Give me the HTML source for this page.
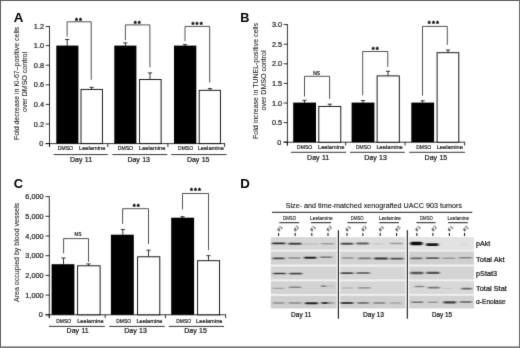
<!DOCTYPE html>
<html lang="en"><head><meta charset="utf-8"><title>Figure</title>
<style>html,body{margin:0;padding:0;background:#fff;}svg{display:block;}text{font-family:'Liberation Sans', Arial, sans-serif;}</style>
</head><body>
<svg width="520" height="348" viewBox="0 0 520 348">
<defs><filter id="b1" x="-20%" y="-200%" width="140%" height="500%"><feGaussianBlur stdDeviation="0.8 0.55"/></filter><filter id="b2" x="-20%" y="-200%" width="140%" height="500%"><feGaussianBlur stdDeviation="1.0 0.6"/></filter><filter id="soft" x="0" y="0" width="520" height="348" filterUnits="userSpaceOnUse" color-interpolation-filters="sRGB"><feConvolveMatrix order="3" kernelMatrix="1 8 1 8 64 8 1 8 1" divisor="100" edgeMode="duplicate" preserveAlpha="true"/></filter></defs>
<g filter="url(#soft)">
<rect x="0.00" y="0.00" width="520.00" height="348.00" fill="#fff"/>
<rect x="0.00" y="0.00" width="520.00" height="1.00" fill="#5e5e5e"/>
<rect x="0.00" y="0.00" width="1.00" height="348.00" fill="#5e5e5e"/>
<rect x="519.00" y="0.00" width="1.00" height="348.00" fill="#6e6e6e"/>
<rect x="0.00" y="346.40" width="520.00" height="1.60" fill="#777"/>
<text x="13.70" y="21.90" font-size="12.2" text-anchor="start" font-weight="bold" fill="#000" textLength="9.60" lengthAdjust="spacingAndGlyphs">A</text>
<text x="240.30" y="21.90" font-size="12.2" text-anchor="start" font-weight="bold" fill="#000" textLength="9.20" lengthAdjust="spacingAndGlyphs">B</text>
<text x="13.80" y="187.90" font-size="12.2" text-anchor="start" font-weight="bold" fill="#000" textLength="9.30" lengthAdjust="spacingAndGlyphs">C</text>
<text x="240.20" y="188.00" font-size="12.2" text-anchor="start" font-weight="bold" fill="#000" textLength="9.60" lengthAdjust="spacingAndGlyphs">D</text>
<line x1="49.50" y1="26.10" x2="49.50" y2="146.80" stroke="#000" stroke-width="0.8"/>
<line x1="45.70" y1="143.60" x2="225.00" y2="143.60" stroke="#000" stroke-width="0.8"/>
<line x1="45.70" y1="143.60" x2="49.50" y2="143.60" stroke="#000" stroke-width="0.8"/>
<text x="43.20" y="146.15" font-size="7.3" text-anchor="end" font-weight="normal" fill="#222" stroke="#222" stroke-width="0.22">0</text>
<line x1="45.70" y1="124.00" x2="49.50" y2="124.00" stroke="#000" stroke-width="0.8"/>
<text x="44.00" y="126.55" font-size="7.3" text-anchor="end" font-weight="normal" fill="#222" stroke="#222" stroke-width="0.22">0.2</text>
<line x1="45.70" y1="104.40" x2="49.50" y2="104.40" stroke="#000" stroke-width="0.8"/>
<text x="44.00" y="106.95" font-size="7.3" text-anchor="end" font-weight="normal" fill="#222" stroke="#222" stroke-width="0.22">0.4</text>
<line x1="45.70" y1="84.80" x2="49.50" y2="84.80" stroke="#000" stroke-width="0.8"/>
<text x="44.00" y="87.35" font-size="7.3" text-anchor="end" font-weight="normal" fill="#222" stroke="#222" stroke-width="0.22">0.6</text>
<line x1="45.70" y1="65.20" x2="49.50" y2="65.20" stroke="#000" stroke-width="0.8"/>
<text x="44.00" y="67.75" font-size="7.3" text-anchor="end" font-weight="normal" fill="#222" stroke="#222" stroke-width="0.22">0.8</text>
<line x1="45.70" y1="45.60" x2="49.50" y2="45.60" stroke="#000" stroke-width="0.8"/>
<text x="44.00" y="48.15" font-size="7.3" text-anchor="end" font-weight="normal" fill="#222" stroke="#222" stroke-width="0.22">1.0</text>
<line x1="45.70" y1="26.50" x2="49.50" y2="26.50" stroke="#000" stroke-width="0.8"/>
<text x="44.00" y="28.55" font-size="7.3" text-anchor="end" font-weight="normal" fill="#222" stroke="#222" stroke-width="0.22">1.2</text>
<line x1="49.50" y1="143.60" x2="49.50" y2="147.00" stroke="#000" stroke-width="0.8"/>
<line x1="107.80" y1="143.60" x2="107.80" y2="147.00" stroke="#000" stroke-width="0.8"/>
<line x1="167.90" y1="143.60" x2="167.90" y2="147.00" stroke="#000" stroke-width="0.8"/>
<line x1="224.60" y1="143.60" x2="224.60" y2="147.00" stroke="#000" stroke-width="0.8"/>
<rect x="56.30" y="45.60" width="22.10" height="98.00" fill="#000"/>
<rect x="81.00" y="89.40" width="21.40" height="54.20" fill="#fff" stroke="#000" stroke-width="0.9"/>
<line x1="67.20" y1="39.50" x2="67.20" y2="46.00" stroke="#000" stroke-width="0.8"/>
<line x1="65.10" y1="39.50" x2="69.30" y2="39.50" stroke="#000" stroke-width="0.8"/>
<line x1="91.60" y1="87.30" x2="91.60" y2="89.20" stroke="#000" stroke-width="0.8"/>
<line x1="89.50" y1="87.30" x2="93.70" y2="87.30" stroke="#000" stroke-width="0.8"/>
<polyline points="67.10,36.40 67.10,21.80 91.20,21.80 91.20,79.80" fill="none" stroke="#1a1a1a" stroke-width="0.75"/>
<text x="74.97 79.07" y="22.90" font-size="7.6" font-weight="bold" fill="#000" stroke="#000" stroke-width="0.35">**</text>
<text x="57.80" y="149.90" font-size="6.0" text-anchor="start" font-weight="normal" fill="#222" textLength="15.20" lengthAdjust="spacingAndGlyphs" stroke="#222" stroke-width="0.22">DMSO</text>
<text x="79.00" y="149.90" font-size="6.0" text-anchor="start" font-weight="normal" fill="#222" textLength="26.30" lengthAdjust="spacingAndGlyphs" stroke="#222" stroke-width="0.22">Leelamine</text>
<line x1="53.60" y1="154.60" x2="107.80" y2="154.60" stroke="#000" stroke-width="0.8"/>
<text x="70.00" y="161.70" font-size="7.0" fill="#111" stroke="#111" stroke-width="0.2">Day <tspan x="84.80">11</tspan></text>
<rect x="114.30" y="45.60" width="22.10" height="98.00" fill="#000"/>
<rect x="139.60" y="79.50" width="21.50" height="64.10" fill="#fff" stroke="#000" stroke-width="0.9"/>
<line x1="125.30" y1="42.90" x2="125.30" y2="46.00" stroke="#000" stroke-width="0.8"/>
<line x1="123.20" y1="42.90" x2="127.40" y2="42.90" stroke="#000" stroke-width="0.8"/>
<line x1="150.00" y1="72.90" x2="150.00" y2="79.30" stroke="#000" stroke-width="0.8"/>
<line x1="147.90" y1="72.90" x2="152.10" y2="72.90" stroke="#000" stroke-width="0.8"/>
<polyline points="125.40,40.20 125.40,24.90 149.90,24.90 149.90,67.30" fill="none" stroke="#1a1a1a" stroke-width="0.75"/>
<text x="133.77 137.87" y="25.70" font-size="7.6" font-weight="bold" fill="#000" stroke="#000" stroke-width="0.35">**</text>
<text x="117.80" y="149.90" font-size="6.0" text-anchor="start" font-weight="normal" fill="#222" textLength="15.20" lengthAdjust="spacingAndGlyphs" stroke="#222" stroke-width="0.22">DMSO</text>
<text x="139.00" y="149.90" font-size="6.0" text-anchor="start" font-weight="normal" fill="#222" textLength="26.30" lengthAdjust="spacingAndGlyphs" stroke="#222" stroke-width="0.22">Leelamine</text>
<line x1="112.40" y1="154.60" x2="167.30" y2="154.60" stroke="#000" stroke-width="0.8"/>
<text x="127.40" y="161.70" font-size="7.0" fill="#111" stroke="#111" stroke-width="0.2">Day <tspan x="142.20">13</tspan></text>
<rect x="174.00" y="45.60" width="22.30" height="98.00" fill="#000"/>
<rect x="199.20" y="90.30" width="21.20" height="53.30" fill="#fff" stroke="#000" stroke-width="0.9"/>
<line x1="185.00" y1="44.60" x2="185.00" y2="46.00" stroke="#000" stroke-width="0.8"/>
<line x1="182.90" y1="44.60" x2="187.10" y2="44.60" stroke="#000" stroke-width="0.8"/>
<line x1="210.00" y1="88.60" x2="210.00" y2="90.00" stroke="#000" stroke-width="0.8"/>
<line x1="207.90" y1="88.60" x2="212.10" y2="88.60" stroke="#000" stroke-width="0.8"/>
<polyline points="185.00,41.00 185.00,26.40 209.70,26.40 209.70,82.50" fill="none" stroke="#1a1a1a" stroke-width="0.75"/>
<text x="191.52 195.62 199.72" y="27.10" font-size="7.6" font-weight="bold" fill="#000" stroke="#000" stroke-width="0.35">***</text>
<text x="178.10" y="149.90" font-size="6.0" text-anchor="start" font-weight="normal" fill="#222" textLength="14.90" lengthAdjust="spacingAndGlyphs" stroke="#222" stroke-width="0.22">DMSO</text>
<text x="197.70" y="149.90" font-size="6.0" text-anchor="start" font-weight="normal" fill="#222" textLength="26.10" lengthAdjust="spacingAndGlyphs" stroke="#222" stroke-width="0.22">Leelamine</text>
<line x1="171.30" y1="154.60" x2="226.50" y2="154.60" stroke="#000" stroke-width="0.8"/>
<text x="186.90" y="161.70" font-size="7.0" fill="#111" stroke="#111" stroke-width="0.2">Day <tspan x="201.70">15</tspan></text>
<line x1="287.40" y1="24.00" x2="287.40" y2="145.40" stroke="#000" stroke-width="0.8"/>
<line x1="283.60" y1="142.20" x2="465.00" y2="142.20" stroke="#000" stroke-width="0.8"/>
<line x1="283.60" y1="142.20" x2="287.40" y2="142.20" stroke="#000" stroke-width="0.8"/>
<text x="281.40" y="144.75" font-size="7.3" text-anchor="end" font-weight="normal" fill="#222" stroke="#222" stroke-width="0.22">0</text>
<line x1="283.60" y1="122.60" x2="287.40" y2="122.60" stroke="#000" stroke-width="0.8"/>
<text x="282.20" y="125.15" font-size="7.3" text-anchor="end" font-weight="normal" fill="#222" stroke="#222" stroke-width="0.22">0.5</text>
<line x1="283.60" y1="103.00" x2="287.40" y2="103.00" stroke="#000" stroke-width="0.8"/>
<text x="282.20" y="105.55" font-size="7.3" text-anchor="end" font-weight="normal" fill="#222" stroke="#222" stroke-width="0.22">1.0</text>
<line x1="283.60" y1="83.40" x2="287.40" y2="83.40" stroke="#000" stroke-width="0.8"/>
<text x="282.20" y="85.95" font-size="7.3" text-anchor="end" font-weight="normal" fill="#222" stroke="#222" stroke-width="0.22">1.5</text>
<line x1="283.60" y1="63.80" x2="287.40" y2="63.80" stroke="#000" stroke-width="0.8"/>
<text x="282.20" y="66.35" font-size="7.3" text-anchor="end" font-weight="normal" fill="#222" stroke="#222" stroke-width="0.22">2.0</text>
<line x1="283.60" y1="44.20" x2="287.40" y2="44.20" stroke="#000" stroke-width="0.8"/>
<text x="282.20" y="46.75" font-size="7.3" text-anchor="end" font-weight="normal" fill="#222" stroke="#222" stroke-width="0.22">2.5</text>
<line x1="283.60" y1="24.60" x2="287.40" y2="24.60" stroke="#000" stroke-width="0.8"/>
<text x="282.20" y="27.15" font-size="7.3" text-anchor="end" font-weight="normal" fill="#222" stroke="#222" stroke-width="0.22">3.0</text>
<line x1="287.40" y1="142.20" x2="287.40" y2="145.60" stroke="#000" stroke-width="0.8"/>
<line x1="345.70" y1="142.20" x2="345.70" y2="145.60" stroke="#000" stroke-width="0.8"/>
<line x1="405.10" y1="142.20" x2="405.10" y2="145.60" stroke="#000" stroke-width="0.8"/>
<line x1="464.60" y1="142.20" x2="464.60" y2="145.60" stroke="#000" stroke-width="0.8"/>
<rect x="293.20" y="102.60" width="22.80" height="39.60" fill="#000"/>
<rect x="318.80" y="106.40" width="22.00" height="35.80" fill="#fff" stroke="#000" stroke-width="0.9"/>
<line x1="304.50" y1="100.30" x2="304.50" y2="103.00" stroke="#000" stroke-width="0.8"/>
<line x1="302.40" y1="100.30" x2="306.60" y2="100.30" stroke="#000" stroke-width="0.8"/>
<line x1="329.80" y1="104.20" x2="329.80" y2="106.20" stroke="#000" stroke-width="0.8"/>
<line x1="327.70" y1="104.20" x2="331.90" y2="104.20" stroke="#000" stroke-width="0.8"/>
<polyline points="304.50,96.40 304.50,76.30 329.60,76.30 329.60,98.80" fill="none" stroke="#1a1a1a" stroke-width="0.75"/>
<text x="316.60" y="74.70" font-size="4.9" text-anchor="middle" font-weight="normal" fill="#111" stroke="#222" stroke-width="0.22">NS</text>
<text x="297.00" y="149.30" font-size="6.0" text-anchor="start" font-weight="normal" fill="#222" textLength="15.20" lengthAdjust="spacingAndGlyphs" stroke="#222" stroke-width="0.22">DMSO</text>
<text x="318.00" y="149.30" font-size="6.0" text-anchor="start" font-weight="normal" fill="#222" textLength="26.40" lengthAdjust="spacingAndGlyphs" stroke="#222" stroke-width="0.22">Leelamine</text>
<line x1="290.90" y1="152.30" x2="346.20" y2="152.30" stroke="#000" stroke-width="0.8"/>
<text x="307.10" y="159.70" font-size="7.0" fill="#111" stroke="#111" stroke-width="0.2">Day <tspan x="321.90">11</tspan></text>
<rect x="351.60" y="102.60" width="22.80" height="39.60" fill="#000"/>
<rect x="377.10" y="75.90" width="22.20" height="66.30" fill="#fff" stroke="#000" stroke-width="0.9"/>
<line x1="363.00" y1="100.60" x2="363.00" y2="103.00" stroke="#000" stroke-width="0.8"/>
<line x1="360.90" y1="100.60" x2="365.10" y2="100.60" stroke="#000" stroke-width="0.8"/>
<line x1="388.00" y1="71.30" x2="388.00" y2="75.70" stroke="#000" stroke-width="0.8"/>
<line x1="385.90" y1="71.30" x2="390.10" y2="71.30" stroke="#000" stroke-width="0.8"/>
<polyline points="362.70,95.30 362.70,51.50 387.80,51.50 387.80,67.00" fill="none" stroke="#1a1a1a" stroke-width="0.75"/>
<text x="371.77 375.87" y="51.70" font-size="7.6" font-weight="bold" fill="#000" stroke="#000" stroke-width="0.35">**</text>
<text x="356.00" y="149.30" font-size="6.0" text-anchor="start" font-weight="normal" fill="#222" textLength="15.00" lengthAdjust="spacingAndGlyphs" stroke="#222" stroke-width="0.22">DMSO</text>
<text x="376.40" y="149.30" font-size="6.0" text-anchor="start" font-weight="normal" fill="#222" textLength="26.40" lengthAdjust="spacingAndGlyphs" stroke="#222" stroke-width="0.22">Leelamine</text>
<line x1="350.00" y1="152.30" x2="404.80" y2="152.30" stroke="#000" stroke-width="0.8"/>
<text x="364.30" y="159.70" font-size="7.0" fill="#111" stroke="#111" stroke-width="0.2">Day <tspan x="379.10">13</tspan></text>
<rect x="411.30" y="102.60" width="22.80" height="39.60" fill="#000"/>
<rect x="437.10" y="52.70" width="21.70" height="89.50" fill="#fff" stroke="#000" stroke-width="0.9"/>
<line x1="422.60" y1="100.80" x2="422.60" y2="103.00" stroke="#000" stroke-width="0.8"/>
<line x1="420.50" y1="100.80" x2="424.70" y2="100.80" stroke="#000" stroke-width="0.8"/>
<line x1="448.00" y1="50.00" x2="448.00" y2="52.50" stroke="#000" stroke-width="0.8"/>
<line x1="445.90" y1="50.00" x2="450.10" y2="50.00" stroke="#000" stroke-width="0.8"/>
<polyline points="422.50,95.70 422.50,26.40 447.30,26.40 447.30,44.90" fill="none" stroke="#1a1a1a" stroke-width="0.75"/>
<text x="427.82 431.92 436.02" y="25.70" font-size="7.6" font-weight="bold" fill="#000" stroke="#000" stroke-width="0.35">***</text>
<text x="416.30" y="149.30" font-size="6.0" text-anchor="start" font-weight="normal" fill="#222" textLength="14.70" lengthAdjust="spacingAndGlyphs" stroke="#222" stroke-width="0.22">DMSO</text>
<text x="436.70" y="149.30" font-size="6.0" text-anchor="start" font-weight="normal" fill="#222" textLength="26.10" lengthAdjust="spacingAndGlyphs" stroke="#222" stroke-width="0.22">Leelamine</text>
<line x1="409.30" y1="152.30" x2="465.00" y2="152.30" stroke="#000" stroke-width="0.8"/>
<text x="424.60" y="159.70" font-size="7.0" fill="#111" stroke="#111" stroke-width="0.2">Day <tspan x="439.40">15</tspan></text>
<line x1="49.30" y1="196.20" x2="49.30" y2="318.00" stroke="#000" stroke-width="0.8"/>
<line x1="45.50" y1="314.80" x2="226.10" y2="314.80" stroke="#000" stroke-width="0.8"/>
<line x1="45.50" y1="314.80" x2="49.30" y2="314.80" stroke="#000" stroke-width="0.8"/>
<text x="42.80" y="317.35" font-size="7.3" text-anchor="end" font-weight="normal" fill="#222" stroke="#222" stroke-width="0.22">0</text>
<line x1="45.50" y1="295.10" x2="49.30" y2="295.10" stroke="#000" stroke-width="0.8"/>
<text x="43.60" y="297.65" font-size="7.3" text-anchor="end" font-weight="normal" fill="#222" stroke="#222" stroke-width="0.22">1,000</text>
<line x1="45.50" y1="275.40" x2="49.30" y2="275.40" stroke="#000" stroke-width="0.8"/>
<text x="43.60" y="277.95" font-size="7.3" text-anchor="end" font-weight="normal" fill="#222" stroke="#222" stroke-width="0.22">2,000</text>
<line x1="45.50" y1="255.70" x2="49.30" y2="255.70" stroke="#000" stroke-width="0.8"/>
<text x="43.60" y="258.25" font-size="7.3" text-anchor="end" font-weight="normal" fill="#222" stroke="#222" stroke-width="0.22">3,000</text>
<line x1="45.50" y1="236.00" x2="49.30" y2="236.00" stroke="#000" stroke-width="0.8"/>
<text x="43.60" y="238.55" font-size="7.3" text-anchor="end" font-weight="normal" fill="#222" stroke="#222" stroke-width="0.22">4,000</text>
<line x1="45.50" y1="216.30" x2="49.30" y2="216.30" stroke="#000" stroke-width="0.8"/>
<text x="43.60" y="218.85" font-size="7.3" text-anchor="end" font-weight="normal" fill="#222" stroke="#222" stroke-width="0.22">5,000</text>
<line x1="45.50" y1="196.60" x2="49.30" y2="196.60" stroke="#000" stroke-width="0.8"/>
<text x="43.60" y="199.15" font-size="7.3" text-anchor="end" font-weight="normal" fill="#222" stroke="#222" stroke-width="0.22">6,000</text>
<line x1="49.30" y1="314.80" x2="49.30" y2="318.20" stroke="#000" stroke-width="0.8"/>
<line x1="105.20" y1="314.80" x2="105.20" y2="318.20" stroke="#000" stroke-width="0.8"/>
<line x1="165.50" y1="314.80" x2="165.50" y2="318.20" stroke="#000" stroke-width="0.8"/>
<line x1="225.70" y1="314.80" x2="225.70" y2="318.20" stroke="#000" stroke-width="0.8"/>
<rect x="51.60" y="264.20" width="22.80" height="50.60" fill="#000"/>
<rect x="77.60" y="265.80" width="22.50" height="49.00" fill="#fff" stroke="#000" stroke-width="0.9"/>
<line x1="63.50" y1="258.00" x2="63.50" y2="264.50" stroke="#000" stroke-width="0.8"/>
<line x1="61.40" y1="258.00" x2="65.60" y2="258.00" stroke="#000" stroke-width="0.8"/>
<line x1="88.50" y1="263.90" x2="88.50" y2="265.60" stroke="#000" stroke-width="0.8"/>
<line x1="86.40" y1="263.90" x2="90.60" y2="263.90" stroke="#000" stroke-width="0.8"/>
<polyline points="63.60,253.30 63.60,238.60 88.50,238.60 88.50,261.90" fill="none" stroke="#1a1a1a" stroke-width="0.75"/>
<text x="78.00" y="236.40" font-size="4.9" text-anchor="middle" font-weight="normal" fill="#111" stroke="#222" stroke-width="0.22">NS</text>
<text x="56.30" y="322.70" font-size="5.9" text-anchor="start" font-weight="normal" fill="#222" textLength="14.70" lengthAdjust="spacingAndGlyphs" stroke="#222" stroke-width="0.22">DMSO</text>
<text x="77.20" y="322.70" font-size="5.9" text-anchor="start" font-weight="normal" fill="#222" textLength="26.40" lengthAdjust="spacingAndGlyphs" stroke="#222" stroke-width="0.22">Leelamine</text>
<line x1="49.00" y1="326.40" x2="104.80" y2="326.40" stroke="#000" stroke-width="0.8"/>
<text x="66.60" y="333.30" font-size="7.0" fill="#111" stroke="#111" stroke-width="0.2">Day <tspan x="81.40">11</tspan></text>
<rect x="110.90" y="234.70" width="22.90" height="80.10" fill="#000"/>
<rect x="137.60" y="256.80" width="22.20" height="58.00" fill="#fff" stroke="#000" stroke-width="0.9"/>
<line x1="122.80" y1="229.60" x2="122.80" y2="235.00" stroke="#000" stroke-width="0.8"/>
<line x1="120.70" y1="229.60" x2="124.90" y2="229.60" stroke="#000" stroke-width="0.8"/>
<line x1="148.50" y1="250.20" x2="148.50" y2="256.60" stroke="#000" stroke-width="0.8"/>
<line x1="146.40" y1="250.20" x2="150.60" y2="250.20" stroke="#000" stroke-width="0.8"/>
<polyline points="122.60,223.90 122.60,208.70 148.50,208.70 148.50,244.00" fill="none" stroke="#1a1a1a" stroke-width="0.75"/>
<text x="132.67 136.77" y="209.00" font-size="7.6" font-weight="bold" fill="#000" stroke="#000" stroke-width="0.35">**</text>
<text x="116.30" y="322.70" font-size="5.9" text-anchor="start" font-weight="normal" fill="#222" textLength="14.70" lengthAdjust="spacingAndGlyphs" stroke="#222" stroke-width="0.22">DMSO</text>
<text x="136.40" y="322.70" font-size="5.9" text-anchor="start" font-weight="normal" fill="#222" textLength="26.10" lengthAdjust="spacingAndGlyphs" stroke="#222" stroke-width="0.22">Leelamine</text>
<line x1="109.30" y1="326.40" x2="164.80" y2="326.40" stroke="#000" stroke-width="0.8"/>
<text x="124.30" y="333.30" font-size="7.0" fill="#111" stroke="#111" stroke-width="0.2">Day <tspan x="139.10">13</tspan></text>
<rect x="171.20" y="217.70" width="22.90" height="97.10" fill="#000"/>
<rect x="197.60" y="260.70" width="22.00" height="54.10" fill="#fff" stroke="#000" stroke-width="0.9"/>
<line x1="182.50" y1="216.70" x2="182.50" y2="218.00" stroke="#000" stroke-width="0.8"/>
<line x1="180.40" y1="216.70" x2="184.60" y2="216.70" stroke="#000" stroke-width="0.8"/>
<line x1="208.50" y1="255.70" x2="208.50" y2="260.50" stroke="#000" stroke-width="0.8"/>
<line x1="206.40" y1="255.70" x2="210.60" y2="255.70" stroke="#000" stroke-width="0.8"/>
<polyline points="182.50,209.50 182.50,193.50 208.50,193.50 208.50,250.20" fill="none" stroke="#1a1a1a" stroke-width="0.75"/>
<text x="189.92 194.02 198.12" y="193.40" font-size="7.6" font-weight="bold" fill="#000" stroke="#000" stroke-width="0.35">***</text>
<text x="176.30" y="322.70" font-size="5.9" text-anchor="start" font-weight="normal" fill="#222" textLength="14.70" lengthAdjust="spacingAndGlyphs" stroke="#222" stroke-width="0.22">DMSO</text>
<text x="196.10" y="322.70" font-size="5.9" text-anchor="start" font-weight="normal" fill="#222" textLength="26.40" lengthAdjust="spacingAndGlyphs" stroke="#222" stroke-width="0.22">Leelamine</text>
<line x1="168.80" y1="326.40" x2="224.00" y2="326.40" stroke="#000" stroke-width="0.8"/>
<text x="184.30" y="333.30" font-size="7.0" fill="#111" stroke="#111" stroke-width="0.2">Day <tspan x="199.10">15</tspan></text>
<text transform="translate(19.10,83.50) rotate(-90)" font-size="7.0" text-anchor="middle" fill="#222" stroke="#222" stroke-width="0.08" textLength="113.00" lengthAdjust="spacingAndGlyphs">Fold decrease in Ki-67–positive cells</text>
<text transform="translate(26.90,82.00) rotate(-90)" font-size="7.0" text-anchor="middle" fill="#222" stroke="#222" stroke-width="0.08" textLength="60.00" lengthAdjust="spacingAndGlyphs">over DMSO control</text>
<text transform="translate(258.00,81.00) rotate(-90)" font-size="7.0" text-anchor="middle" fill="#222" stroke="#222" stroke-width="0.08" textLength="115.80" lengthAdjust="spacingAndGlyphs">Fold increase in TUNEL-positive cells</text>
<text transform="translate(266.40,80.40) rotate(-90)" font-size="7.0" text-anchor="middle" fill="#222" stroke="#222" stroke-width="0.08" textLength="60.00" lengthAdjust="spacingAndGlyphs">over DMSO control</text>
<text transform="translate(19.00,252.50) rotate(-90)" font-size="7.0" text-anchor="middle" fill="#222" stroke="#222" stroke-width="0.08" textLength="99.00" lengthAdjust="spacingAndGlyphs">Area occupied by blood vessels</text>
<text x="285.70" y="207.70" font-size="7.2" text-anchor="start" font-weight="normal" fill="#111" textLength="176.30" lengthAdjust="spacingAndGlyphs" stroke="#111" stroke-width="0.1">Size- and time-matched xenografted UACC 903 tumors</text>
<line x1="272.00" y1="212.30" x2="472.30" y2="212.30" stroke="#000" stroke-width="0.9"/>
<rect x="270.80" y="237.20" width="65.80" height="71.20" fill="#f1f1f1"/>
<rect x="340.20" y="237.20" width="65.10" height="71.20" fill="#f1f1f1"/>
<rect x="409.10" y="237.20" width="64.80" height="71.20" fill="#f1f1f1"/>
<rect x="270.80" y="237.20" width="65.80" height="12.60" fill="#d6d6d6"/>
<rect x="270.80" y="251.60" width="65.80" height="12.90" fill="#d2d2d2"/>
<rect x="270.80" y="266.60" width="65.80" height="12.80" fill="#d4d4d4"/>
<rect x="270.80" y="281.30" width="65.80" height="12.70" fill="#d2d2d2"/>
<rect x="270.80" y="295.80" width="65.80" height="12.60" fill="#d0d0d0"/>
<text x="283.00" y="219.90" font-size="5.9" text-anchor="start" font-weight="normal" fill="#111" textLength="13.20" lengthAdjust="spacingAndGlyphs" stroke="#111" stroke-width="0.12">DMSO</text>
<text x="310.10" y="219.90" font-size="5.9" text-anchor="start" font-weight="normal" fill="#111" textLength="22.50" lengthAdjust="spacingAndGlyphs" stroke="#111" stroke-width="0.12">Leelamine</text>
<line x1="279.30" y1="222.70" x2="299.00" y2="222.70" stroke="#000" stroke-width="0.9"/>
<line x1="311.00" y1="222.70" x2="331.00" y2="222.70" stroke="#000" stroke-width="0.9"/>
<text transform="translate(278.90,231.70) rotate(-45)" font-size="4.8" font-weight="bold" fill="#3a3a3a"><tspan stroke="#3a3a3a" stroke-width="0.15">#</tspan><tspan dx="0.3" font-weight="normal" stroke="#3a3a3a" stroke-width="0.1">1</tspan></text>
<line x1="278.60" y1="233.00" x2="278.60" y2="236.10" stroke="#222" stroke-width="1.1"/>
<text transform="translate(295.50,231.70) rotate(-45)" font-size="4.8" font-weight="bold" fill="#3a3a3a"><tspan stroke="#3a3a3a" stroke-width="0.15">#</tspan><tspan dx="0.3" font-weight="normal" stroke="#3a3a3a" stroke-width="0.1">2</tspan></text>
<line x1="295.20" y1="233.00" x2="295.20" y2="236.10" stroke="#222" stroke-width="1.1"/>
<text transform="translate(312.10,231.70) rotate(-45)" font-size="4.8" font-weight="bold" fill="#3a3a3a"><tspan stroke="#3a3a3a" stroke-width="0.15">#</tspan><tspan dx="0.3" font-weight="normal" stroke="#3a3a3a" stroke-width="0.1">1</tspan></text>
<line x1="311.80" y1="233.00" x2="311.80" y2="236.10" stroke="#222" stroke-width="1.1"/>
<text transform="translate(328.30,231.70) rotate(-45)" font-size="4.8" font-weight="bold" fill="#3a3a3a"><tspan stroke="#3a3a3a" stroke-width="0.15">#</tspan><tspan dx="0.3" font-weight="normal" stroke="#3a3a3a" stroke-width="0.1">2</tspan></text>
<line x1="328.00" y1="233.00" x2="328.00" y2="236.10" stroke="#222" stroke-width="1.1"/>
<text x="291.00" y="317.00" font-size="7.1" text-anchor="start" font-weight="normal" fill="#111" textLength="20.30" lengthAdjust="spacingAndGlyphs" stroke="#111" stroke-width="0.22">Day 11</text>
<rect x="340.20" y="237.20" width="65.10" height="12.60" fill="#dcdcdc"/>
<rect x="340.20" y="251.60" width="65.10" height="12.90" fill="#d2d2d2"/>
<rect x="340.20" y="266.60" width="65.10" height="12.80" fill="#d6d6d6"/>
<rect x="340.20" y="281.30" width="65.10" height="12.70" fill="#d6d6d6"/>
<rect x="340.20" y="295.80" width="65.10" height="12.60" fill="#d0d0d0"/>
<text x="350.80" y="219.90" font-size="5.9" text-anchor="start" font-weight="normal" fill="#111" textLength="12.90" lengthAdjust="spacingAndGlyphs" stroke="#111" stroke-width="0.12">DMSO</text>
<text x="379.00" y="219.90" font-size="5.9" text-anchor="start" font-weight="normal" fill="#111" textLength="22.00" lengthAdjust="spacingAndGlyphs" stroke="#111" stroke-width="0.12">Leelamine</text>
<line x1="347.30" y1="222.70" x2="366.70" y2="222.70" stroke="#000" stroke-width="0.9"/>
<line x1="379.30" y1="222.70" x2="398.90" y2="222.70" stroke="#000" stroke-width="0.9"/>
<text transform="translate(347.30,231.70) rotate(-45)" font-size="4.8" font-weight="bold" fill="#3a3a3a"><tspan stroke="#3a3a3a" stroke-width="0.15">#</tspan><tspan dx="0.3" font-weight="normal" stroke="#3a3a3a" stroke-width="0.1">1</tspan></text>
<line x1="347.00" y1="233.00" x2="347.00" y2="236.10" stroke="#222" stroke-width="1.1"/>
<text transform="translate(363.20,231.70) rotate(-45)" font-size="4.8" font-weight="bold" fill="#3a3a3a"><tspan stroke="#3a3a3a" stroke-width="0.15">#</tspan><tspan dx="0.3" font-weight="normal" stroke="#3a3a3a" stroke-width="0.1">2</tspan></text>
<line x1="362.90" y1="233.00" x2="362.90" y2="236.10" stroke="#222" stroke-width="1.1"/>
<text transform="translate(380.50,231.70) rotate(-45)" font-size="4.8" font-weight="bold" fill="#3a3a3a"><tspan stroke="#3a3a3a" stroke-width="0.15">#</tspan><tspan dx="0.3" font-weight="normal" stroke="#3a3a3a" stroke-width="0.1">1</tspan></text>
<line x1="380.20" y1="233.00" x2="380.20" y2="236.10" stroke="#222" stroke-width="1.1"/>
<text transform="translate(396.90,231.70) rotate(-45)" font-size="4.8" font-weight="bold" fill="#3a3a3a"><tspan stroke="#3a3a3a" stroke-width="0.15">#</tspan><tspan dx="0.3" font-weight="normal" stroke="#3a3a3a" stroke-width="0.1">2</tspan></text>
<line x1="396.60" y1="233.00" x2="396.60" y2="236.10" stroke="#222" stroke-width="1.1"/>
<text x="362.90" y="317.00" font-size="7.1" text-anchor="start" font-weight="normal" fill="#111" textLength="21.10" lengthAdjust="spacingAndGlyphs" stroke="#111" stroke-width="0.22">Day 13</text>
<rect x="409.10" y="237.20" width="64.80" height="12.60" fill="#e2e2e2"/>
<rect x="409.10" y="251.60" width="64.80" height="12.90" fill="#d0d0d0"/>
<rect x="409.10" y="266.60" width="64.80" height="12.80" fill="#d4d4d4"/>
<rect x="409.10" y="281.30" width="64.80" height="12.70" fill="#d8d8d8"/>
<rect x="409.10" y="295.80" width="64.80" height="12.60" fill="#d2d2d2"/>
<text x="419.90" y="219.90" font-size="5.9" text-anchor="start" font-weight="normal" fill="#111" textLength="13.00" lengthAdjust="spacingAndGlyphs" stroke="#111" stroke-width="0.12">DMSO</text>
<text x="447.60" y="219.90" font-size="5.9" text-anchor="start" font-weight="normal" fill="#111" textLength="21.60" lengthAdjust="spacingAndGlyphs" stroke="#111" stroke-width="0.12">Leelamine</text>
<line x1="416.40" y1="222.70" x2="435.50" y2="222.70" stroke="#000" stroke-width="0.9"/>
<line x1="448.10" y1="222.70" x2="467.80" y2="222.70" stroke="#000" stroke-width="0.9"/>
<text transform="translate(417.10,231.70) rotate(-45)" font-size="4.8" font-weight="bold" fill="#3a3a3a"><tspan stroke="#3a3a3a" stroke-width="0.15">#</tspan><tspan dx="0.3" font-weight="normal" stroke="#3a3a3a" stroke-width="0.1">1</tspan></text>
<line x1="416.80" y1="233.00" x2="416.80" y2="236.10" stroke="#222" stroke-width="1.1"/>
<text transform="translate(433.20,231.70) rotate(-45)" font-size="4.8" font-weight="bold" fill="#3a3a3a"><tspan stroke="#3a3a3a" stroke-width="0.15">#</tspan><tspan dx="0.3" font-weight="normal" stroke="#3a3a3a" stroke-width="0.1">2</tspan></text>
<line x1="432.90" y1="233.00" x2="432.90" y2="236.10" stroke="#222" stroke-width="1.1"/>
<text transform="translate(449.60,231.70) rotate(-45)" font-size="4.8" font-weight="bold" fill="#3a3a3a"><tspan stroke="#3a3a3a" stroke-width="0.15">#</tspan><tspan dx="0.3" font-weight="normal" stroke="#3a3a3a" stroke-width="0.1">1</tspan></text>
<line x1="449.30" y1="233.00" x2="449.30" y2="236.10" stroke="#222" stroke-width="1.1"/>
<text transform="translate(464.80,231.70) rotate(-45)" font-size="4.8" font-weight="bold" fill="#3a3a3a"><tspan stroke="#3a3a3a" stroke-width="0.15">#</tspan><tspan dx="0.3" font-weight="normal" stroke="#3a3a3a" stroke-width="0.1">2</tspan></text>
<line x1="464.50" y1="233.00" x2="464.50" y2="236.10" stroke="#222" stroke-width="1.1"/>
<text x="432.00" y="317.00" font-size="7.1" text-anchor="start" font-weight="normal" fill="#111" textLength="20.00" lengthAdjust="spacingAndGlyphs" stroke="#111" stroke-width="0.22">Day 15</text>
<line x1="338.35" y1="230.20" x2="338.35" y2="318.70" stroke="#000" stroke-width="1.0"/>
<line x1="407.30" y1="230.20" x2="407.30" y2="318.70" stroke="#000" stroke-width="1.0"/>
<rect x="272.00" y="242.45" width="13.40" height="1.90" rx="0.95" fill="#101010" fill-opacity="0.85" filter="url(#b1)"/>
<rect x="288.40" y="242.75" width="13.20" height="1.90" rx="0.95" fill="#101010" fill-opacity="0.75" filter="url(#b1)"/>
<rect x="304.00" y="243.20" width="14.00" height="1.60" rx="0.80" fill="#101010" fill-opacity="0.1" filter="url(#b1)"/>
<rect x="321.00" y="243.00" width="13.30" height="1.60" rx="0.80" fill="#101010" fill-opacity="0.28" filter="url(#b1)"/>
<rect x="272.60" y="257.55" width="12.10" height="1.70" rx="0.85" fill="#101010" fill-opacity="0.7" filter="url(#b1)"/>
<rect x="288.00" y="257.35" width="12.60" height="1.30" rx="0.65" fill="#101010" fill-opacity="0.35" filter="url(#b1)"/>
<rect x="304.00" y="256.65" width="12.50" height="2.10" rx="1.05" fill="#101010" fill-opacity="0.9" filter="url(#b1)"/>
<rect x="320.00" y="256.45" width="12.00" height="1.30" rx="0.65" fill="#101010" fill-opacity="0.55" filter="url(#b1)"/>
<rect x="273.00" y="272.65" width="13.00" height="1.70" rx="0.85" fill="#101010" fill-opacity="0.75" filter="url(#b1)"/>
<rect x="289.40" y="272.80" width="12.90" height="1.60" rx="0.80" fill="#101010" fill-opacity="0.72" filter="url(#b1)"/>
<rect x="272.50" y="287.70" width="11.50" height="1.40" rx="0.70" fill="#101010" fill-opacity="0.24" filter="url(#b1)"/>
<rect x="288.80" y="286.50" width="12.40" height="1.60" rx="0.80" fill="#101010" fill-opacity="0.38" filter="url(#b1)"/>
<rect x="321.00" y="285.30" width="5.00" height="1.80" rx="0.90" fill="#101010" fill-opacity="0.4" filter="url(#b1)"/>
<rect x="326.00" y="285.50" width="8.00" height="1.00" rx="0.50" fill="#101010" fill-opacity="0.15" filter="url(#b1)"/>
<rect x="272.60" y="302.30" width="12.10" height="1.40" rx="0.70" fill="#101010" fill-opacity="0.32" filter="url(#b1)"/>
<rect x="288.50" y="302.25" width="13.00" height="1.50" rx="0.75" fill="#101010" fill-opacity="0.35" filter="url(#b1)"/>
<rect x="305.00" y="302.20" width="13.00" height="2.00" rx="1.00" fill="#101010" fill-opacity="0.9" filter="url(#b1)"/>
<rect x="321.40" y="302.05" width="6.60" height="1.90" rx="0.95" fill="#101010" fill-opacity="0.8" filter="url(#b1)"/>
<rect x="327.00" y="302.30" width="7.30" height="1.40" rx="0.70" fill="#101010" fill-opacity="0.3" filter="url(#b1)"/>
<rect x="340.70" y="242.80" width="12.70" height="2.00" rx="1.00" fill="#101010" fill-opacity="0.72" filter="url(#b1)"/>
<rect x="356.30" y="242.60" width="12.70" height="1.80" rx="0.90" fill="#101010" fill-opacity="0.62" filter="url(#b1)"/>
<rect x="373.00" y="243.10" width="10.60" height="1.40" rx="0.70" fill="#101010" fill-opacity="0.08" filter="url(#b1)"/>
<rect x="389.70" y="242.75" width="13.00" height="1.50" rx="0.75" fill="#101010" fill-opacity="0.35" filter="url(#b1)"/>
<rect x="341.80" y="257.30" width="12.40" height="1.40" rx="0.70" fill="#101010" fill-opacity="0.32" filter="url(#b1)"/>
<rect x="358.00" y="257.60" width="13.20" height="1.60" rx="0.80" fill="#101010" fill-opacity="0.48" filter="url(#b1)"/>
<rect x="374.10" y="257.60" width="13.90" height="2.00" rx="1.00" fill="#101010" fill-opacity="0.8" filter="url(#b1)"/>
<rect x="390.20" y="257.65" width="13.30" height="1.90" rx="0.95" fill="#101010" fill-opacity="0.68" filter="url(#b1)"/>
<rect x="340.70" y="272.35" width="12.70" height="1.70" rx="0.85" fill="#101010" fill-opacity="0.72" filter="url(#b1)"/>
<rect x="356.30" y="272.15" width="13.50" height="1.70" rx="0.85" fill="#101010" fill-opacity="0.7" filter="url(#b1)"/>
<rect x="342.00" y="287.35" width="11.40" height="1.30" rx="0.65" fill="#101010" fill-opacity="0.14" filter="url(#b1)"/>
<rect x="357.70" y="287.10" width="13.00" height="1.60" rx="0.80" fill="#101010" fill-opacity="0.28" filter="url(#b1)"/>
<rect x="340.70" y="302.05" width="12.70" height="1.90" rx="0.95" fill="#101010" fill-opacity="0.75" filter="url(#b1)"/>
<rect x="357.30" y="302.20" width="11.70" height="1.60" rx="0.80" fill="#101010" fill-opacity="0.55" filter="url(#b1)"/>
<rect x="373.30" y="302.25" width="12.10" height="1.50" rx="0.75" fill="#101010" fill-opacity="0.42" filter="url(#b1)"/>
<rect x="389.70" y="302.35" width="11.30" height="1.30" rx="0.65" fill="#101010" fill-opacity="0.22" filter="url(#b1)"/>
<rect x="410.20" y="241.85" width="12.50" height="3.50" rx="1.75" fill="#101010" fill-opacity="1.0" filter="url(#b1)"/>
<rect x="426.00" y="243.35" width="12.60" height="2.70" rx="1.35" fill="#101010" fill-opacity="0.95" filter="url(#b1)"/>
<rect x="460.00" y="243.90" width="8.00" height="1.20" rx="0.60" fill="#101010" fill-opacity="0.06" filter="url(#b1)"/>
<rect x="410.40" y="257.60" width="12.10" height="1.60" rx="0.80" fill="#101010" fill-opacity="0.55" filter="url(#b1)"/>
<rect x="426.00" y="257.35" width="13.00" height="1.70" rx="0.85" fill="#101010" fill-opacity="0.62" filter="url(#b1)"/>
<rect x="442.40" y="257.50" width="13.00" height="1.40" rx="0.70" fill="#101010" fill-opacity="0.28" filter="url(#b1)"/>
<rect x="458.80" y="257.05" width="13.00" height="1.50" rx="0.75" fill="#101010" fill-opacity="0.38" filter="url(#b1)"/>
<rect x="410.40" y="271.85" width="13.00" height="2.30" rx="1.15" fill="#101010" fill-opacity="0.64" filter="url(#b1)"/>
<rect x="426.30" y="271.65" width="13.50" height="2.30" rx="1.15" fill="#101010" fill-opacity="0.66" filter="url(#b1)"/>
<rect x="414.70" y="285.75" width="9.50" height="1.50" rx="0.75" fill="#101010" fill-opacity="0.4" filter="url(#b1)"/>
<rect x="427.70" y="286.75" width="12.10" height="1.70" rx="0.85" fill="#101010" fill-opacity="0.5" filter="url(#b1)"/>
<rect x="443.00" y="287.90" width="9.00" height="1.20" rx="0.60" fill="#101010" fill-opacity="0.08" filter="url(#b1)"/>
<rect x="461.40" y="287.80" width="10.40" height="1.80" rx="0.90" fill="#101010" fill-opacity="0.58" filter="url(#b1)"/>
<rect x="411.20" y="301.40" width="12.20" height="1.60" rx="0.80" fill="#101010" fill-opacity="0.5" filter="url(#b1)"/>
<rect x="427.70" y="301.50" width="10.30" height="1.40" rx="0.70" fill="#101010" fill-opacity="0.3" filter="url(#b1)"/>
<rect x="443.30" y="301.20" width="12.90" height="2.20" rx="1.10" fill="#101010" fill-opacity="0.75" filter="url(#b1)"/>
<rect x="459.70" y="301.15" width="12.10" height="1.70" rx="0.85" fill="#101010" fill-opacity="0.55" filter="url(#b1)"/>
<text x="476.10" y="245.90" font-size="7.5" text-anchor="start" font-weight="normal" fill="#111" textLength="14.20" lengthAdjust="spacingAndGlyphs" stroke="#111" stroke-width="0.22">pAkt</text>
<text x="476.10" y="261.60" font-size="7.5" text-anchor="start" font-weight="normal" fill="#111" textLength="28.50" lengthAdjust="spacingAndGlyphs" stroke="#111" stroke-width="0.22">Total Akt</text>
<text x="476.00" y="275.60" font-size="7.5" text-anchor="start" font-weight="normal" fill="#111" textLength="21.00" lengthAdjust="spacingAndGlyphs" stroke="#111" stroke-width="0.22">pStat3</text>
<text x="476.10" y="291.00" font-size="7.5" text-anchor="start" font-weight="normal" fill="#111" textLength="30.70" lengthAdjust="spacingAndGlyphs" stroke="#111" stroke-width="0.22">Total Stat</text>
<text x="476.10" y="304.00" font-size="7.5" text-anchor="start" font-weight="normal" fill="#111" textLength="29.50" lengthAdjust="spacingAndGlyphs" stroke="#111" stroke-width="0.22">α-Enolase</text>
</g></svg></body></html>
